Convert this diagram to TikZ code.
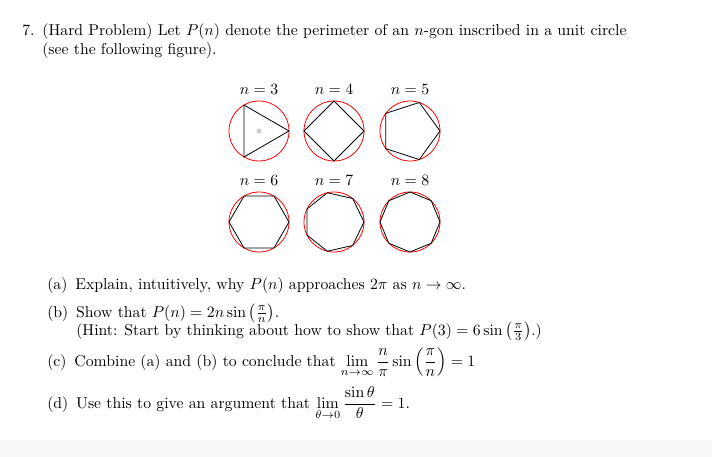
\documentclass[tikz,border=0pt]{standalone}
\usepackage{amsmath}
\begin{document}
\begin{tikzpicture}[x=1pt,y=-1pt,
  txt/.style={anchor=base west,inner sep=0pt,font=\fontsize{10}{12}\selectfont,scale=1.575},
  lab/.style={anchor=base,inner sep=0pt,font=\fontsize{10}{12}\selectfont,scale=1.575},
  circ/.style={draw=red,thick},
  poly/.style={draw=black,thick,line join=miter}]
\useasboundingbox (0,0) rectangle (712,457);
\fill[gray!6] (0,440) rectangle (712,457);
\node[txt] (t1) at (22,36) {7.\enspace(Hard Problem) Let $P(n)$ denote the perimeter of an $n$-gon inscribed in a unit circle};
\node[txt] (t2) at (42,55) {(see the following figure).};
\foreach \n/\cx/\cy in {3/259/131,4/334/131,5/410/131,6/259/222,7/334/222,8/410/222}{
  \node[lab] (l\n) at (\cx,\cy-36) {$n=\n$};
  \draw[circ] (\cx,\cy) circle (30);
  \draw[poly] (\cx+30,\cy) \foreach \k in {1,...,\n}{ -- ({\cx+30*cos(360*\k/\n)},{\cy-30*sin(360*\k/\n)}) } -- cycle;
}
\fill[gray!40] (259,131) circle (2.5);
\node[txt] (a) at (47,289) {(a)\enspace Explain, intuitively, why $P(n)$ approaches $2\pi$ as $n\to\infty$.};
\node[txt] (b) at (47,317) {(b)\enspace Show that $P(n)=2n\sin\left(\frac{\pi}{n}\right)$.};
\node[txt] (h) at (76,335) {(Hint: Start by thinking about how to show that $P(3)=6\sin\left(\frac{\pi}{3}\right)$.)};
\node[txt] (c) at (47,366) {(c)\enspace Combine (a) and (b) to conclude that $\displaystyle\lim_{n\to\infty}\frac{n}{\pi}\sin\left(\frac{\pi}{n}\right)=1$};
\node[txt] (d) at (47,408) {(d)\enspace Use this to give an argument that $\displaystyle\lim_{\theta\to0}\frac{\sin\theta}{\theta}=1$.};
\end{tikzpicture}
\end{document}
